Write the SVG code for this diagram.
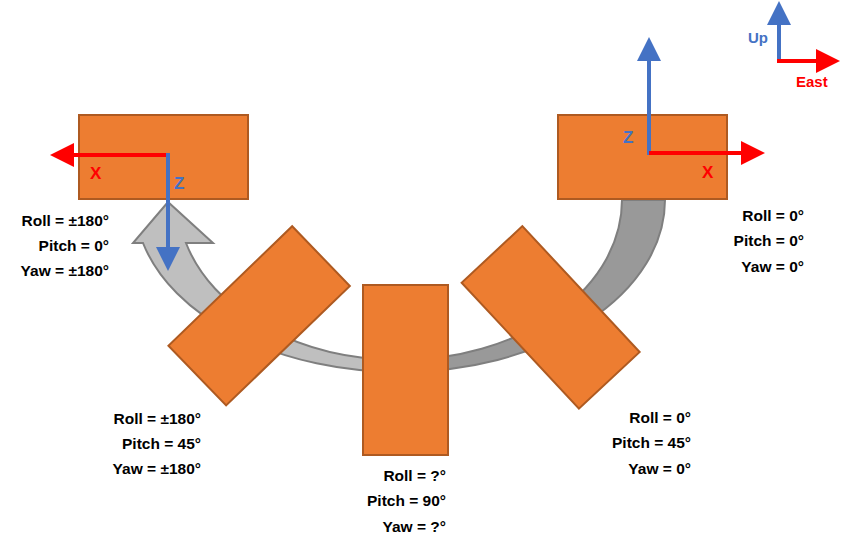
<svg xmlns="http://www.w3.org/2000/svg" width="846" height="554" viewBox="0 0 846 554">
<style>
.box{fill:#ed7d31;stroke:#ae5a21;stroke-width:2}
.t{font-family:"Liberation Sans",Arial,sans-serif;font-weight:bold;font-size:15.5px;fill:#000;text-anchor:end}
.r{stroke:#ff0000;stroke-width:4;fill:none}
.b{stroke:#4472c4;stroke-width:4;fill:none}
.lr{font-family:"Liberation Sans",Arial,sans-serif;font-weight:bold;font-size:17px;fill:#ff0000}
.lb{font-family:"Liberation Sans",Arial,sans-serif;font-weight:bold;font-size:17px;fill:#4472c4}
</style>
<defs>
<marker id="ar" markerWidth="6" markerHeight="6" refX="2" refY="3" orient="auto" markerUnits="strokeWidth"><path d="M0,0L6,3L0,6z" fill="#ff0000"/></marker>
<marker id="ab" markerWidth="6" markerHeight="6" refX="2" refY="3" orient="auto" markerUnits="strokeWidth"><path d="M0,0L6,3L0,6z" fill="#4472c4"/></marker>
</defs>
<g id="connectors">
<path d="M665,200 A265,172 0 0 1 400,372 L400,360 A222,160 0 0 0 622,200 Z" fill="#999999" stroke="#7f7f7f" stroke-width="2"/>
<path d="M400,372 A265,172 0 0 1 143,243 L133,243 L168,202 L213,243 L186,243 A222,160 0 0 0 400,360 Z" fill="#bfbfbf" stroke="#7f7f7f" stroke-width="2"/>
</g>
<g id="box-top-left">
<rect class="box" x="79" y="115" width="169" height="84"/>
<line class="r" x1="168" y1="155" x2="66" y2="155" marker-end="url(#ar)"/>
<line class="b" x1="168" y1="153" x2="168" y2="255" marker-end="url(#ab)"/>
<text class="lr" x="90" y="179">X</text>
<text class="lb" x="174" y="189">Z</text>
</g>
<g id="box-top-right">
<rect class="box" x="558" y="115" width="169" height="84"/>
<line class="b" x1="649" y1="155" x2="649" y2="53" marker-end="url(#ab)"/>
<line class="r" x1="649" y1="153" x2="749" y2="153" marker-end="url(#ar)"/>
<text class="lb" x="623" y="143">Z</text>
<text class="lr" x="702" y="178">X</text>
</g>
<g id="box-left-45"><rect class="box" x="173" y="274" width="172" height="83" transform="rotate(-44 259.5 315.5)"/></g>
<g id="box-right-45"><rect class="box" x="465" y="276" width="172" height="83" transform="rotate(47 551 317)"/></g>
<g id="box-center"><rect class="box" x="363" y="285" width="85" height="170"/></g>
<g id="legend">
<line class="b" x1="779" y1="62" x2="779" y2="17" marker-end="url(#ab)"/>
<line class="r" x1="777" y1="61" x2="824" y2="61" marker-end="url(#ar)"/>
<text class="lb" x="748" y="43" style="font-size:15px">Up</text>
<text class="lr" x="796" y="87" style="font-size:15px">East</text>
</g>
<g id="labels">
<text class="t" x="109" y="226">Roll = ±180°</text>
<text class="t" x="109" y="251">Pitch = 0°</text>
<text class="t" x="109" y="276">Yaw = ±180°</text>
<text class="t" x="804" y="221">Roll = 0°</text>
<text class="t" x="804" y="246">Pitch = 0°</text>
<text class="t" x="804" y="272">Yaw = 0°</text>
<text class="t" x="201" y="424">Roll = ±180°</text>
<text class="t" x="201" y="449">Pitch = 45°</text>
<text class="t" x="201" y="474">Yaw = ±180°</text>
<text class="t" x="691" y="423">Roll = 0°</text>
<text class="t" x="691" y="448">Pitch = 45°</text>
<text class="t" x="691" y="474">Yaw = 0°</text>
<text class="t" x="446" y="481">Roll = ?°</text>
<text class="t" x="446" y="506">Pitch = 90°</text>
<text class="t" x="446" y="532">Yaw = ?°</text>
</g>
</svg>
